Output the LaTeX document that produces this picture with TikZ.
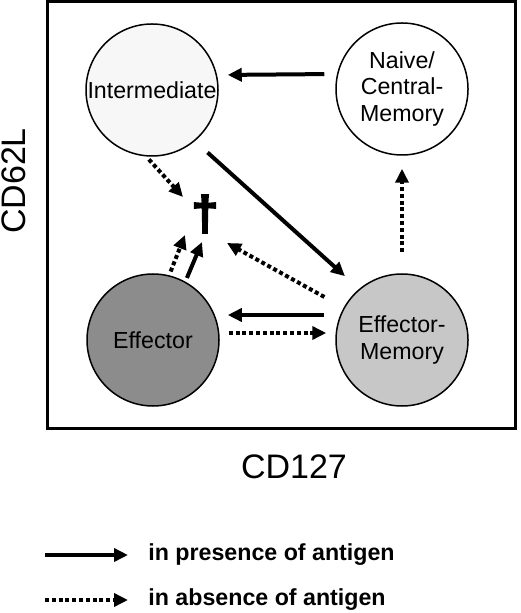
\documentclass[tikz,border=0pt]{standalone}
\usepackage{fontspec}
\setmainfont{Liberation Sans}
\newfontfamily\heavyfont[FakeBold=4]{Liberation Sans Bold}
\usetikzlibrary{arrows.meta}

\tikzset{
    cell/.style={circle, draw, line width=0.75pt, minimum size=66pt, inner sep=0pt,
        align=center, font=\fontsize{11.6}{13.2}\selectfont},
    solidarrow/.style={line width=2pt, -{Triangle[length=7pt,width=6.5pt]}},
    dotarrow/.style={line width=2pt, dash pattern=on 2pt off 1.4pt, -{Triangle[length=7pt,width=6.5pt]}},
    axislabel/.style={font=\fontsize{17}{17}\selectfont},
    legendtext/.style={anchor=west, inner sep=0pt, font=\fontsize{11.6}{13}\selectfont\bfseries}
}

\begin{document}
\begin{tikzpicture}[x=0.5pt,y=-0.5pt]
    \useasboundingbox (0,0) rectangle (520,613);

    % Frame and axes
    \draw[line width=1.5pt] (47,1.5) rectangle (515,428);
    \node[axislabel, rotate=90] (cdl) at (14,181) {CD62L};
    \node[axislabel] (cdr) at (294,467) {CD127};

    % Cell types
    \node[cell, fill=black!3] (int) at (152,90) {Intermediate};
    \node[cell, fill=white] (naive) at (402,89) {Naive/\\Central-\\Memory};
    \node[cell, fill=black!45] (eff) at (153,340) {Effector};
    \node[cell, fill=black!22] (em) at (402,340) {Effector-\\Memory};

    % Cell death
    \node[inner sep=0pt, font=\fontsize{24}{24}\heavyfont] (death) at (205,214) {†};

    % Transitions
    \draw[solidarrow, shorten <=5.5pt, shorten >=4.5pt] ([yshift=7.5pt]naive.west) -- ([yshift=7.5pt]int.east);
    \draw[solidarrow, shorten <=8.5pt, shorten >=9.5pt] (int.-50) -- (em.130);
    \draw[dotarrow, shorten <=10.5pt, shorten >=6.5pt] (em.north) -- (naive.south);
    \draw[solidarrow, shorten <=5.5pt, shorten >=4pt] ([yshift=12.5pt]em.west) -- ([yshift=12.5pt]eff.east);
    \draw[dotarrow, shorten <=4.5pt, shorten >=4.5pt] ([yshift=3.5pt]eff.east) -- ([yshift=3.5pt]em.west);

    % Arrows to cell death
    \draw[dotarrow, shorten <=2pt] (int.-95) -- ([xshift=-11pt,yshift=8.5pt]death.center);
    \draw[dotarrow, shorten <=2pt] (eff.76) -- ([xshift=-10pt,yshift=-10.5pt]death.center);
    \draw[solidarrow, shorten <=2pt] (eff.61) -- ([xshift=-1.5pt,yshift=-14pt]death.center);
    \draw[dotarrow, shorten <=11pt] (em.151) -- ([xshift=11pt,yshift=-14.5pt]death.center);

    % Legend
    \coordinate (lsolid) at (45,555);
    \coordinate (ldot) at (45,600);
    \node[legendtext] (presence) at (148,555) {in presence of antigen};
    \node[legendtext] (absence) at (148,600) {in absence of antigen};
    \draw[solidarrow, shorten >=10pt] (lsolid) -- (presence.west |- lsolid);
    \draw[dotarrow, shorten >=10pt] (ldot) -- (absence.west |- ldot);
\end{tikzpicture}
\end{document}
